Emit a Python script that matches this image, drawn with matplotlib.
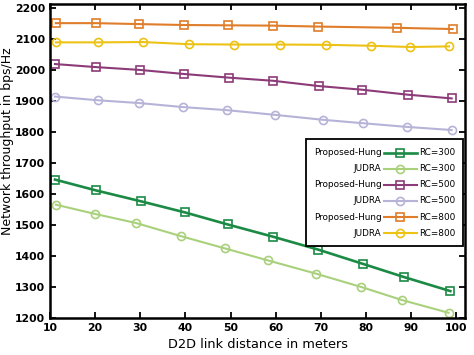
import matplotlib
matplotlib.use("Agg")
import matplotlib.pyplot as plt
from matplotlib.lines import Line2D
from matplotlib.offsetbox import AnchoredOffsetbox, HPacker, VPacker, TextArea, DrawingArea

# D2D distance (m) of each marker and throughput (bps/Hz)
x_hung_300 = [11.1, 20.2, 30.1, 39.9, 49.4, 59.3, 69.4, 79.3, 88.5, 98.7]
y_hung_300 = [1646, 1611, 1576, 1540, 1501, 1462, 1420, 1374, 1331, 1286]
x_judra_300 = [11.3, 20.0, 29.0, 39.1, 48.7, 58.3, 69.0, 79.0, 88.0, 98.3]
y_judra_300 = [1565, 1535, 1506, 1463, 1424, 1385, 1342, 1299, 1257, 1216]
x_hung_500 = [11.1, 20.3, 29.9, 39.6, 49.7, 59.4, 69.5, 79.2, 89.3, 99.0]
y_hung_500 = [2019, 2009, 2000, 1987, 1975, 1965, 1948, 1936, 1920, 1908]
x_judra_500 = [11.1, 20.6, 29.8, 39.5, 49.3, 59.8, 70.5, 79.3, 89.1, 99.0]
y_judra_500 = [1914, 1902, 1893, 1880, 1870, 1855, 1839, 1828, 1816, 1806]
x_hung_800 = [11.3, 20.2, 29.7, 39.6, 49.4, 59.3, 69.3, 86.8, 99.2]
y_hung_800 = [2151, 2151, 2148, 2145, 2144, 2143, 2140, 2136, 2132]
x_judra_800 = [11.3, 20.6, 30.6, 40.8, 50.8, 60.9, 71.1, 81.2, 89.8, 98.4]
y_judra_800 = [2089, 2089, 2090, 2083, 2082, 2082, 2081, 2078, 2074, 2076]

names = ["Proposed-Hung", "JUDRA"] * 3
rc_labels = ["RC=300", "RC=300", "RC=500", "RC=500", "RC=800", "RC=800"]
xticks = [10, 20, 30, 40, 50, 60, 70, 80, 90, 100]
yticks = [1200, 1300, 1400, 1500, 1600, 1700, 1800, 1900, 2000, 2100, 2200]

series = [
    (x_hung_300, y_hung_300, "#1b8a45", "s", 1.9),
    (x_judra_300, y_judra_300, "#a9d17c", "o", 1.5),
    (x_hung_500, y_hung_500, "#8c3b78", "s", 1.5),
    (x_judra_500, y_judra_500, "#b6b3d8", "o", 1.5),
    (x_hung_800, y_hung_800, "#e07d2a", "s", 1.5),
    (x_judra_800, y_judra_800, "#ecc215", "o", 1.5),
]

fig = plt.figure(figsize=(4.74, 3.55), dpi=100)
ax = fig.add_axes([0.1055, 0.105, 0.876, 0.883])

for xs, ys, color, marker, lw in series:
    ms = 5.3 if marker == "s" else 5.8
    ax.plot(xs, ys, color=color, lw=lw, marker=marker, ms=ms,
            mfc="none", mew=1.2)

ax.set_xlim(10, 102)
ax.set_ylim(1200, 2212)
ax.set_xticks(xticks)
ax.set_yticks(yticks)
ax.tick_params(direction="in", top=True, right=True, length=4, width=1.3,
               labelsize=7.8, pad=3.5)
for lbl in ax.get_xticklabels() + ax.get_yticklabels():
    lbl.set_fontweight("bold")
for sp in ax.spines.values():
    sp.set_linewidth(1.8)

ax.set_xlabel("D2D link distance in meters", fontsize=9.3, labelpad=4)
ax.set_ylabel("Network throughput in bps/Hz", fontsize=9)
ax.yaxis.set_label_coords(-0.087, 0.562)

# legend: name, sample, RC value on each row
rows = []
for (xs, ys, color, marker, lw), name, rc in zip(series, names, rc_labels):
    ms = 5.3 if marker == "s" else 5.8
    da = DrawingArea(24, 8, 0, 0)
    da.add_artist(Line2D([0, 24], [4, 4], color=color, lw=lw))
    da.add_artist(Line2D([12], [4], color=color, marker=marker, ms=ms,
                         mfc="none", mew=1.2, ls="none"))
    tp = dict(fontsize=6.4, color="black")
    rows.append(HPacker(children=[TextArea(name, textprops=tp), da,
                                  TextArea(rc, textprops=tp)],
                        align="center", pad=0, sep=1.5))
box = VPacker(children=rows, align="right", pad=0, sep=3.6)
leg = AnchoredOffsetbox(loc="upper right", child=box, pad=0.55, borderpad=0,
                        frameon=True, bbox_to_anchor=(0.9945, 0.569),
                        bbox_transform=ax.transAxes)
leg.patch.set_edgecolor("black")
leg.patch.set_linewidth(1.3)
ax.add_artist(leg)

fig.savefig("out.png", dpi=100)
